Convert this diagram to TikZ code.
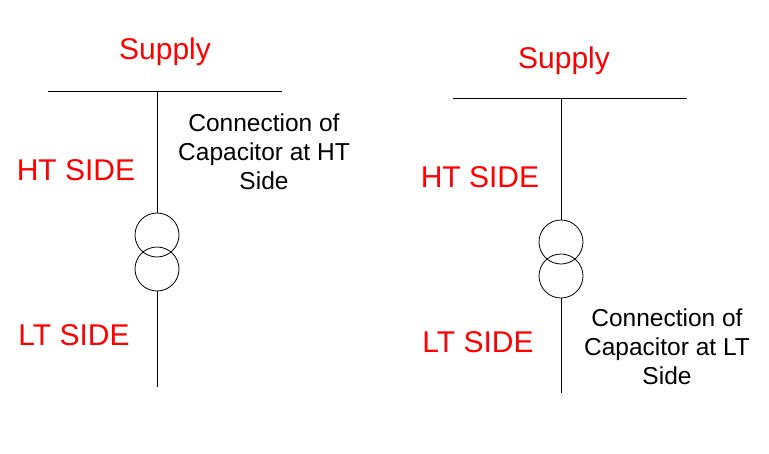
\documentclass[tikz,border=0pt]{standalone}
\usepackage{fontspec}
\setmainfont{Liberation Sans}
\begin{document}
\begin{tikzpicture}[x=1pt,y=-1pt,
  lbl/.style={text=red,font=\fontsize{30}{33}\selectfont},
  note/.style={align=center,font=\fontsize{24.5}{29}\selectfont},
  wire/.style={line width=0.8pt},
  coil/.style={circle,draw,line width=0.8pt,minimum size=44pt,inner sep=0pt}]
\useasboundingbox (0,0) rectangle (769,453);
% left
\coordinate (b1a) at (48,91); \coordinate (b1b) at (282,91);
\coordinate (t1) at (157,91); \coordinate (e1) at (157,387);
\node[coil] (c1a) at (157,235) {};
\node[coil] (c1b) at (157,269) {};
\draw[wire] (b1a) -- (b1b);
\draw[wire] (t1) -- (c1a.north);
\draw[wire] (c1b.south) -- (e1);
\node[lbl] (s1) at (165,52) {Supply};
\node[lbl] (h1) at (76,170) {HT SIDE};
\node[lbl] (l1) at (74,335) {LT SIDE};
\node[note] (n1) at (264,152) {Connection of\\Capacitor at HT\\Side};
% right
\coordinate (b2a) at (453,98); \coordinate (b2b) at (687,98);
\coordinate (t2) at (561,98); \coordinate (e2) at (561,393);
\node[coil] (c2a) at (561,242) {};
\node[coil] (c2b) at (561,276) {};
\draw[wire] (b2a) -- (b2b);
\draw[wire] (t2) -- (c2a.north);
\draw[wire] (c2b.south) -- (e2);
\node[lbl] (s2) at (564,61) {Supply};
\node[lbl] (h2) at (480,177) {HT SIDE};
\node[lbl] (l2) at (478,342) {LT SIDE};
\node[note] (n2) at (667,347) {Connection of\\Capacitor at LT\\Side};
\end{tikzpicture}
\end{document}
